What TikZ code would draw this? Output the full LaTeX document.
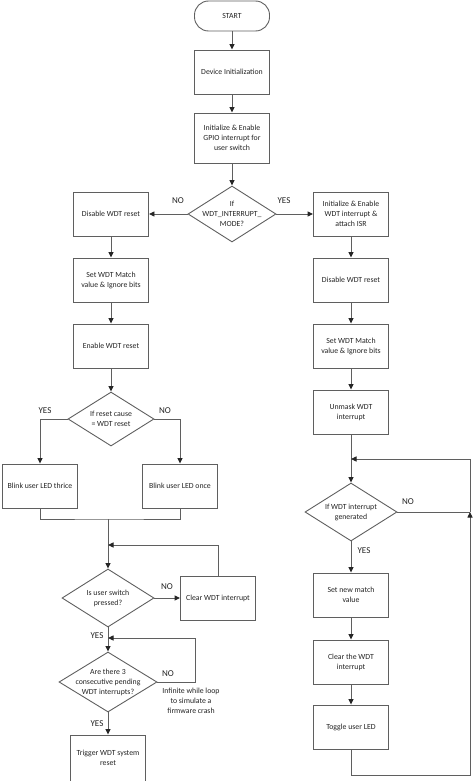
\documentclass[tikz,border=0pt]{standalone}
\usepackage{fontspec}
\setmainfont{Carlito}
\usetikzlibrary{shapes.geometric,arrows.meta}
\definecolor{lc}{RGB}{95,95,95}
\definecolor{tc}{RGB}{35,35,35}
\newcommand{\bxfont}{\fontsize{7.8}{10}\selectfont}
\newcommand{\lbfont}{\fontsize{9}{11}\selectfont}
\tikzset{
  box/.style={draw=lc, line width=0.9pt, rectangle, minimum width=75pt, minimum height=44pt, inner sep=0pt, align=center, font=\bxfont, text=tc},
  term/.style={box, rounded corners=14pt, minimum height=30pt},
  dec/.style={draw=lc, line width=0.9pt, diamond, inner sep=0pt},
  dtext/.style={align=center, font=\bxfont, text=tc, inner sep=0pt},
  lbl/.style={font=\lbfont, text=tc, inner sep=0pt},
  note/.style={align=center, font=\bxfont, text=tc, inner sep=0pt},
  conn/.style={draw=lc, line width=0.9pt},
  arr/.style={conn, -{Triangle[length=5.5pt,width=5pt,color=black!85]}}
}
\begin{document}
\begin{tikzpicture}[x=1pt,y=-1pt]
\useasboundingbox (0,0) rectangle (474,781);
% main column
\node[term] (start) at (232,16) {START};
\node[box] (dev) at (232,72) {Device Initialization};
\node[box, minimum height=50pt] (gpio) at (232,138) {Initialize \& Enable\\GPIO interrupt for\\user switch};
\node[dec, minimum width=88pt, minimum height=56pt] (d1) at (232,214) {};
\node[dtext] (d1t) at (d1.center) {If\\WDT\_INTERRUPT\_\\MODE?};
% left column
\node[box] (l1) at (111,214) {Disable WDT reset};
\node[box] (l2) at (111,280) {Set WDT Match\\value \& Ignore bits};
\node[box] (l3) at (111,346) {Enable WDT reset};
\node[dec, minimum width=86pt, minimum height=54pt] (d2) at (111,419) {};
\node[dtext] (d2t) at (d2.center) {If reset cause\\= WDT reset};
\node[box] (b1) at (40,486) {Blink user LED thrice};
\node[box] (b2) at (180,486) {Blink user LED once};
\coordinate (m) at (108,519);
\coordinate (j1) at (108,545);
\node[dec, minimum width=92pt, minimum height=58pt] (d3) at (108,598) {};
\node[dtext] (d3t) at (d3.center) {Is user switch\\pressed?};
\node[box] (clr) at (218,598) {Clear WDT interrupt};
\coordinate (j2) at (108,638);
\coordinate (c2) at (195,638);
\node[dec, minimum width=98pt, minimum height=60pt] (d4) at (108,682) {};
\node[dtext] (d4t) at (d4.center) {Are there 3\\consecutive pending\\WDT interrupts?};
\node[box, minimum height=46pt] (trig) at (108,758) {Trigger WDT system\\reset};
% right column
\node[box] (r1) at (351,214) {Initialize \& Enable\\WDT interrupt \&\\attach ISR};
\node[box] (r2) at (351,280) {Disable WDT reset};
\node[box] (r3) at (351,346) {Set WDT Match\\value \& Ignore bits};
\node[box] (r4) at (351,412) {Unmask WDT\\interrupt};
\coordinate (j3) at (351,459);
\coordinate (c3) at (470,459);
\node[dec, minimum width=92pt, minimum height=58pt] (d5) at (351,512) {};
\node[dtext] (d5t) at (d5.center) {If WDT interrupt\\generated};
\coordinate (j4) at (470,512);
\node[box] (r5) at (351,595) {Set new match\\value};
\node[box] (r6) at (351,662) {Clear the WDT\\interrupt};
\node[box] (r7) at (351,727) {Toggle user LED};
\coordinate (c4) at (351,775);
\coordinate (c5) at (470,775);
% connectors main
\draw[arr] (start) -- (dev);
\draw[arr] (dev) -- (gpio);
\draw[arr] (gpio) -- (d1);
\draw[arr] (d1.west) -- (l1.east);
\draw[arr] (d1.east) -- (r1.west);
% left
\draw[arr] (l1) -- (l2);
\draw[arr] (l2) -- (l3);
\draw[arr] (l3) -- (d2);
\draw[arr] (d2.west) -| (b1.north);
\draw[arr] (d2.east) -| (b2.north);
\draw[conn] (b1.south) |- (m) -| (b2.south);
\draw[arr] (m) -- (d3.north);
\draw[arr] (clr.north) |- (j1);
\draw[arr] (d3.east) -- (clr.west);
\draw[arr] (d3.south) -- (d4.north);
\draw[arr] (d4.east) -| (c2) -- (j2);
\draw[arr] (d4.south) -- (trig.north);
% right
\draw[arr] (r1) -- (r2);
\draw[arr] (r2) -- (r3);
\draw[arr] (r3) -- (r4);
\draw[arr] (r4.south) -- (d5.north);
\draw[arr] (c3) -- (j3);
\draw[conn] (j4) -- (c3);
\draw[conn] (d5.east) -- (j4);
\draw[arr] (r7.south) -- (c4) -- (c5) -- (j4);
\draw[arr] (d5.south) -- (r5.north);
\draw[arr] (r5) -- (r6);
\draw[arr] (r6) -- (r7);
% labels
\node[lbl] (n1) at (178,201) {NO};
\node[lbl] (y1) at (284,201) {YES};
\node[lbl] (y2) at (45,411) {YES};
\node[lbl] (n2) at (165,411) {NO};
\node[lbl] (n3) at (167,587) {NO};
\node[lbl] (y3) at (97,636) {YES};
\node[lbl] (n4) at (168,674) {NO};
\node[lbl] (y4) at (97,724) {YES};
\node[lbl] (y5) at (364,551) {YES};
\node[lbl] (n5) at (408,502) {NO};
\node[note] (inf) at (191,701) {Infinite while loop\\to simulate a\\firmware crash};
\end{tikzpicture}
\end{document}
